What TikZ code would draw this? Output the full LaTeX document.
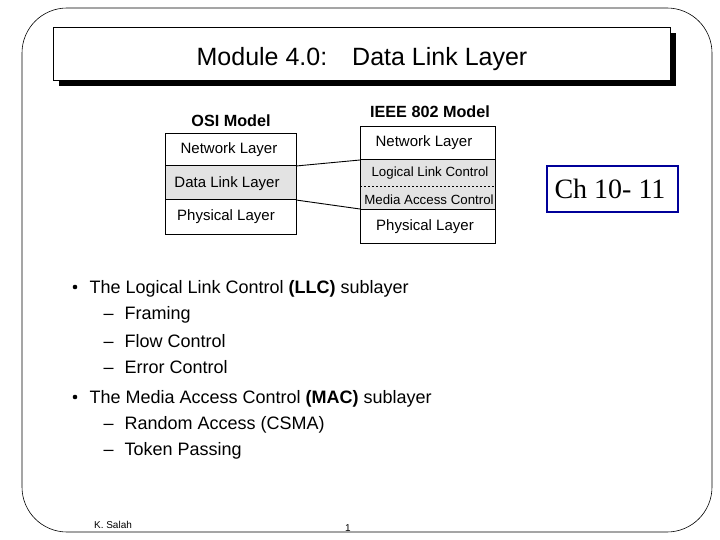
\documentclass[tikz,border=0pt]{standalone}
\usepackage{fontspec}
\setmainfont{Liberation Sans}
\begin{document}
\begin{tikzpicture}[x=1pt,y=-1pt,
 lbl/.style={font=\fontsize{15}{17}\selectfont,anchor=center},
 body/.style={font=\fontsize{18}{20}\selectfont,anchor=west},
 thin/.style={line width=0.6pt}]
\useasboundingbox (0,0) rectangle (720,540);
\draw[thin,rounded corners=45pt] (22,8) rectangle (712,532);
% title
\fill (59,33) rectangle (676,86);
\draw[fill=white,thin] (53,27) rectangle (670,80);
\node[font=\fontsize{25}{28}\selectfont] (title) at (362,59) {Module 4.0:\quad Data Link Layer};
% OSI
\node[font=\bfseries\fontsize{16.2}{18}\selectfont] (osih) at (231,121) {OSI Model};
\fill[gray!22] (165,166) rectangle (296,200);
\draw[thin] (165,133) rectangle (296,234);
\draw[line width=1pt] (165,166) -- (296,166) (165,200) -- (296,200);
\node[lbl] (o1) at (229,150) {Network Layer};
\node[lbl] (o2) at (227,184) {Data Link Layer};
\node[lbl] (o3) at (226,217) {Physical Layer};
% IEEE
\node[font=\bfseries\fontsize{16.2}{18}\selectfont] (ieh) at (430,112) {IEEE 802 Model};
\fill[gray!22] (360,160) rectangle (495,209);
\draw[thin] (360,126) rectangle (495,243);
\draw[line width=1pt] (360,160) -- (495,160);
\draw[thin] (360,209) -- (495,209);
\draw[thin,dash pattern=on 2pt off 2pt] (360,186) -- (495,186);
\node[lbl] (i1) at (424,143) {Network Layer};
\node[lbl,font=\fontsize{13.3}{15}\selectfont] (i2) at (430,173) {Logical Link Control};
\node[lbl,font=\fontsize{13.3}{15}\selectfont] (i3) at (429,200) {Media Access Control};
\node[lbl] (i4) at (425,227) {Physical Layer};
\coordinate (a1) at (296,166); \coordinate (b1) at (360,160);
\coordinate (a2) at (296,200); \coordinate (b2) at (360,209);
\draw[line width=0.9pt] (a1) -- (b1) (a2) -- (b2);
% Ch box
\draw[blue!60!black,line width=1.5pt] (547,166) rectangle (678,212);
\node[font=\fontspec{Liberation Serif}\fontsize{28}{32}\selectfont] (ch) at (610,189) {Ch 10- 11};
% bullets
\fill (75,287) circle (2.3);
\node[body] (b1t) at (86,289) {The Logical Link Control \textbf{(LLC)} sublayer};
\node[body] (b11) at (100,315) {–\hspace{11pt}Framing};
\node[body] (b12) at (100,341) {–\hspace{11pt}Flow Control};
\node[body] (b13) at (100,367) {–\hspace{11pt}Error Control};
\fill (75,397) circle (2.3);
\node[body] (b2t) at (86,399) {The Media Access Control \textbf{(MAC)} sublayer};
\node[body] (b21) at (100,425) {–\hspace{11pt}Random Access (CSMA)};
\node[body] (b22) at (100,451) {–\hspace{11pt}Token Passing};
\node[font=\fontsize{10}{12}\selectfont] (auth) at (113,525) {K. Salah};
\node[font=\fontsize{10}{12}\selectfont] (pg) at (348,528) {1};
\end{tikzpicture}
\end{document}
